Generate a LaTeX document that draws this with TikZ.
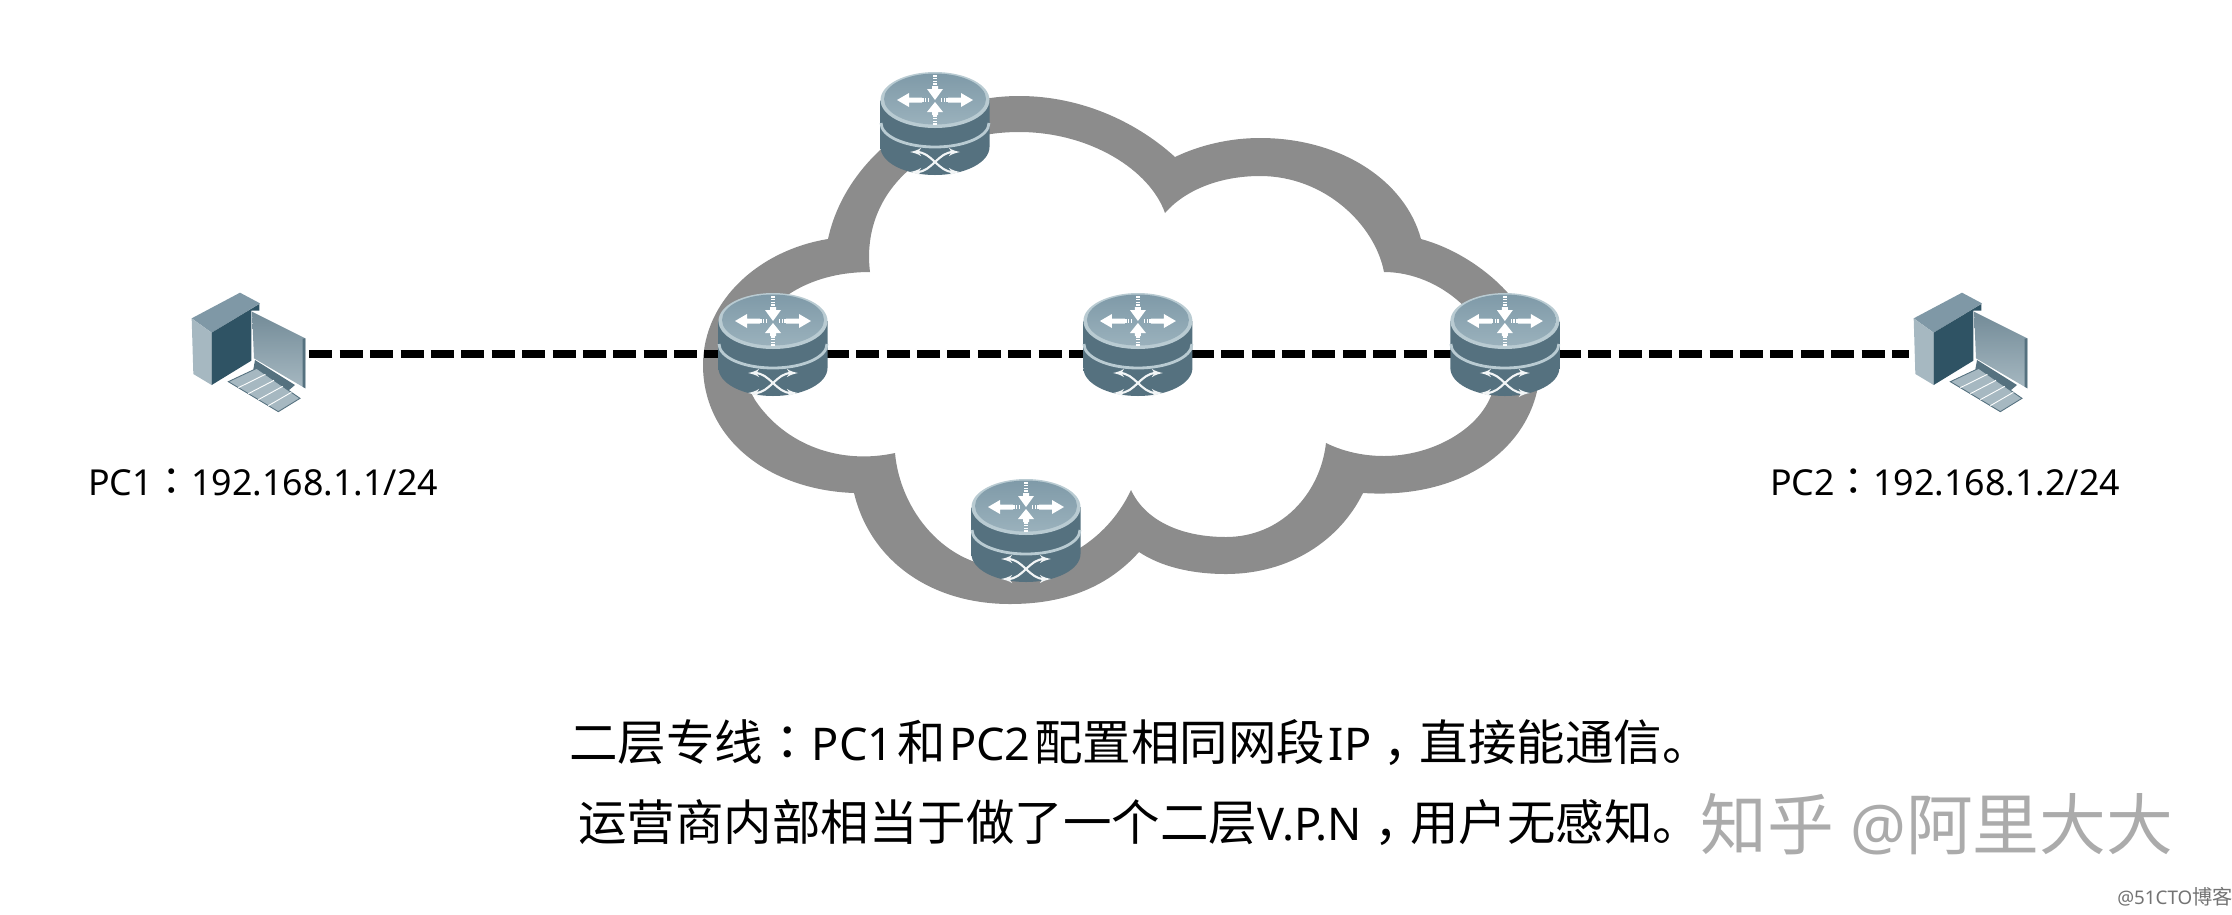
\documentclass[tikz,border=0pt]{standalone}
\usepackage{fontspec}
\setmainfont{Noto Sans}[Scale=0.93]
\newfontfamily\cjk{Noto Sans CJK SC}
\newfontfamily\cjkp{Noto Sans CJK TC}
\usetikzlibrary{arrows, calc}
\definecolor{cloudgray}{HTML}{8C8C8C}
\definecolor{bodydark}{HTML}{55717F}
\definecolor{bodylight}{HTML}{93A9B3}
\definecolor{facelight}{HTML}{9AB1BC}
\definecolor{facedark}{HTML}{7F9AA8}
\definecolor{rimlight}{HTML}{B9CBD2}
\definecolor{towerdark}{HTML}{2F5364}
\definecolor{towertop}{HTML}{7F98A6}
\definecolor{keylight}{HTML}{A6B8C1}
\newcommand{\commamark}{{\cjk\kern.25em，\kern-.25em}}
\tikzstyle{routernode} =
[rectangle, minimum width = 2.1cm, minimum height = 2.1cm, inner sep = 0pt]
\tikzstyle{pcnode} =
[rectangle, minimum width = 2.44cm, minimum height = 2.4cm, inner sep = 0pt]
\tikzstyle{pclabel} =
[inner sep = 0pt, text centered, font = \fontsize{21.9}{24}\selectfont]
\tikzstyle{caption} =
[inner sep = 0pt, anchor = west, font = \fontsize{27.6}{32}\selectfont]
\tikzstyle{markone} =
[inner sep = 0pt, text = black!33, font = \fontsize{38}{44}\selectfont]
\tikzstyle{marktwo} =
[inner sep = 0pt, text = black!55, font = \fontsize{11.5}{14}\selectfont]
\tikzstyle{line} = [draw, line width = 4.15pt, dash pattern = on 13.1pt off 4.2pt]
\tikzstyle{tail} = [draw = white, line width = 2.6pt, dash pattern = on 0.9pt off 0.7pt]
\tikzstyle{smalltip} = [draw = white!88!bodylight, line width = 1.2pt, latex'-latex']
\tikzset{
  router/.pic = {
    % body
    \path [left color = bodydark, middle color = bodylight, right color = bodydark]
      (-54.5,-33) -- (-54.5,14) arc [start angle = 180, end angle = 0, x radius = 54.5, y radius = 28]
      -- (54.5,-33) -- cycle;
    \draw [rimlight, line width = 1.6pt]
      (-54,-10) arc [start angle = 180, end angle = 0, x radius = 54, y radius = 24];
    % top face
    \path [fill = rimlight] (0,-33) ellipse [x radius = 54.5, y radius = 28];
    \path [top color = facedark, bottom color = facelight] (0,-34) ellipse [x radius = 51, y radius = 25.5];
    % arrows on the face
    \path [fill = white] (38,-33) -- (26,-40) -- (26,-35.5) -- (13,-35.5) -- (13,-30.5)
      -- (26,-30.5) -- (26,-26) -- cycle;
    \path [fill = white] (-38,-33) -- (-26,-40) -- (-26,-35.5) -- (-13,-35.5) -- (-13,-30.5)
      -- (-26,-30.5) -- (-26,-26) -- cycle;
    \path [fill = white] (0,-33) -- (-8,-44) -- (-3,-44) -- (-3,-47) -- (3,-47) -- (3,-44)
      -- (8,-44) -- cycle;
    \path [fill = white] (0,-31) -- (-8,-21) -- (-3,-21) -- (-3,-18) -- (3,-18) -- (3,-21)
      -- (8,-21) -- cycle;
    \path [tail] (0,-58) -- (0,-47);
    \path [tail] (0,-18) -- (0,-8);
    \path [tail] (-13,-33) -- (-6,-33);
    \path [tail] (13,-33) -- (6,-33);
    % arrows on the side
    \draw [smalltip] (-25,19) .. controls (-3,19) and (3,39) .. (25,39);
    \draw [smalltip] (25,19) .. controls (3,19) and (-3,39) .. (-25,39);
  },
  computer/.pic = {
    \begin{scope}[scale = 0.3333, shift = {(-264,-252)}]
      % tower
      \path [fill = towertop] (95,145) -- (240,68) -- (300,100) -- (155,188) -- cycle;
      \path [fill = keylight] (95,145) -- (155,188) -- (155,345) -- (100,312) -- cycle;
      \path [fill = towerdark] (155,188) -- (298,102) -- (298,122) -- (274,122)
        -- (274,272) -- (155,345) -- cycle;
      % screen
      \path [top color = facedark!90!black, bottom color = keylight]
        (276,125) -- (436,205) -- (436,355) -- (282,265) -- cycle;
      \path [fill = bodydark] (428,206) -- (436,205) -- (436,355) -- (428,350) -- cycle;
      % foot and keyboard
      \path [fill = bodydark] (285,270) -- (405,345) -- (385,362) -- (280,298) -- cycle;
      \path [fill = keylight, draw = bodydark, line width = 0.5pt]
        (205,335) -- (290,295) -- (420,385) -- (355,425) -- cycle;
      \foreach \k in {0.2,0.4,0.6,0.8}
        \draw [white, line width = 0.5pt] ($(205,335)!\k!(355,425)$) -- ($(290,295)!\k!(420,385)$);
    \end{scope}
  }
}
\begin{document}
\begin{tikzpicture}[x = 0.02cm, y = -0.02cm, node distance = 7.3cm]
  \useasboundingbox (0,0) rectangle (2232,914);
  % cloud ring
  \path [fill = cloudgray, even odd rule]
    (1175,157) .. controls (1200,145) and (1230,138) .. (1260,138)
    .. controls (1340,138) and (1405,180) .. (1421,239)
    .. controls (1480,255) and (1540,310) .. (1540,365)
    .. controls (1540,440) and (1470,500) .. (1363,493)
    .. controls (1340,540) and (1290,574) .. (1226,574)
    .. controls (1190,574) and (1160,566) .. (1139,552)
    .. controls (1105,590) and (1060,604) .. (1010,604)
    .. controls (930,604) and (870,560) .. (854,493)
    .. controls (770,490) and (703,440) .. (703,365)
    .. controls (703,300) and (760,250) .. (828,239)
    .. controls (845,160) and (925,96) .. (1019,96)
    .. controls (1085,96) and (1140,125) .. (1175,157) -- cycle
    (1165,213) .. controls (1185,190) and (1220,176) .. (1260,176)
    .. controls (1325,176) and (1375,225) .. (1384,272)
    .. controls (1440,272) and (1495,320) .. (1495,375)
    .. controls (1495,420) and (1440,456) .. (1384,456)
    .. controls (1360,456) and (1340,450) .. (1326,443)
    .. controls (1320,495) and (1280,537) .. (1226,537)
    .. controls (1180,537) and (1145,520) .. (1131,490)
    .. controls (1110,535) and (1065,568) .. (1010,568)
    .. controls (945,568) and (900,510) .. (895,453)
    .. controls (840,465) and (785,445) .. (755,400)
    .. controls (725,350) and (770,272) .. (870,272)
    .. controls (860,190) and (930,132) .. (1019,132)
    .. controls (1090,132) and (1150,170) .. (1165,213) -- cycle;
  % nodes
  \node [pcnode] (pcleft) at (248,354) {};
  \node [pcnode] (pcright) at (1970,354) {};
  \node [routernode] (rleft) at (773,354) {};
  \node [routernode, right of=rleft] (rmid) {};
  \node [routernode, right of=rmid, node distance=7.34cm] (rright) {};
  \node [routernode] (rtop) at (935,133) {};
  \node [routernode] (rbottom) at (1026,540) {};
  % edges
  \path [line] (pcleft.east) -- (rleft) -- (rmid) -- (rright) -- (pcright.west);
  % icons
  \foreach \r in {rleft, rmid, rright, rtop, rbottom}
    \pic at (\r) {router};
  \pic at (pcleft) {computer};
  \pic at (pcright) {computer};
  % texts
  \node [pclabel] (lableft) at (263,482) {PC1{\cjkp ：}192.168.1.1/24};
  \node [pclabel] (labright) at (1945,482) {PC2{\cjkp ：}192.168.1.2/24};
  \node [caption] (capone) at (569,743)
   {{\cjk 二层专线}{\cjkp ：}PC1\kern.08em{\cjk 和}\kern.08emPC2\kern.08em{\cjk 配置相同网段}\kern.08emIP\commamark{\cjk 直接能通信。}};
  \node [caption] (captwo) at (578,823)
   {{\cjk 运营商内部相当于做了一个二层}V.P.N\commamark{\cjk 用户无感知。}};
  \node [markone] (wmone) at (1937,824) {{\cjk 知乎} @{\cjk 阿里大大}};
  \node [marktwo] (wmtwo) at (2175,897) {@51CTO{\cjk 博客}};
\end{tikzpicture}
\end{document}
